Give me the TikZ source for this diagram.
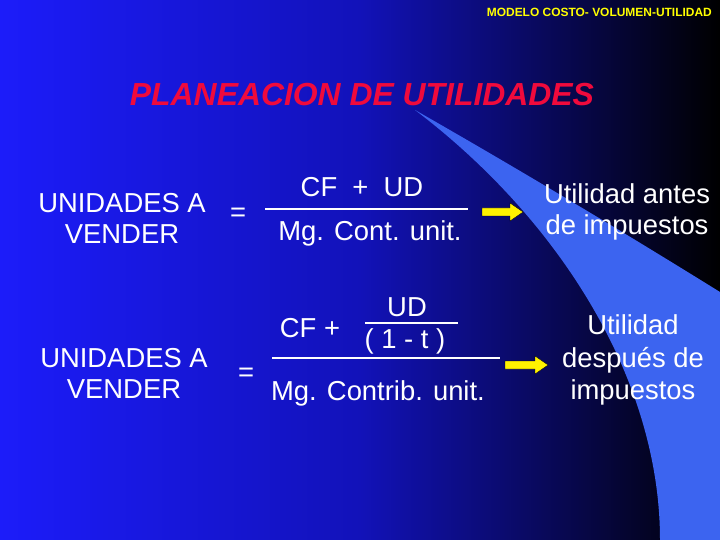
\documentclass[tikz,border=0pt]{standalone}
\usepackage{fontspec}
\setmainfont{Liberation Sans}
\definecolor{bgblue}{RGB}{28,28,250}
\definecolor{bgmid}{RGB}{18,18,185}
\definecolor{band}{RGB}{60,100,240}
\definecolor{titlered}{RGB}{240,10,60}
\definecolor{hdr}{RGB}{255,255,0}
\begin{document}
\begin{tikzpicture}[x=1bp,y=-1bp,
  txt/.style={text=white,font=\fontsize{27.5}{31}\selectfont,align=center,inner sep=0pt},
  fracline/.style={white,line width=2.5bp},
  yarrow/.style={fill=yellow,draw=black,line width=0.3bp}]
\useasboundingbox (0,0) rectangle (720,540);
\shade[left color=bgblue,right color=black,middle color=bgmid] (0,0) rectangle (720,540);
\fill[band] (415,110) .. controls (520,170) and (620,230) .. (720,292) -- (720,540) -- (660,540) .. controls (660,380) and (560,220) .. (415,110) -- cycle;
\node[text=hdr,font=\bfseries\fontsize{12}{14}\selectfont,anchor=east,inner sep=0pt] (hd) at (712,12) {MODELO COSTO- VOLUMEN-UTILIDAD};
\node[text=titlered,font=\bfseries\itshape\fontsize{32}{36}\selectfont,inner sep=0pt] (tt) at (362,95) {PLANEACION DE UTILIDADES};
% first
\node[txt] (u1) at (122,218) {UNIDADES A\\VENDER};
\node[txt] (e1) at (238,215) {=};
\node[txt] (n1) at (362,187) {CF \ + \ UD};
\coordinate (l1a) at (265,209); \coordinate (l1b) at (468,209);
\draw[fracline] (l1a) -- (l1b);
\node[txt] (d1) at (370,233) {Mg. Cont. unit.};
\coordinate (a1) at (482,212);
\draw[yarrow] (a1) ++(0,-4) -- ++(28,0) -- ++(0,-5) -- ++(13,9) -- ++(-13,9) -- ++(0,-5) -- ++(-28,0) -- cycle;
\node[txt] (r1) at (627,212) {Utilidad antes\\de impuestos};
% second
\node[txt] (u2) at (124,373) {UNIDADES A\\VENDER};
\node[txt] (e2) at (246,375) {=};
\node[txt] (cf) at (310,328) {CF +};
\node[txt] (ud) at (407,307) {UD};
\coordinate (l2a) at (365,323); \coordinate (l2b) at (458,323);
\draw[fracline] (l2a) -- (l2b);
\node[txt] (tt2) at (405,341) {( 1 - t )};
\coordinate (l3a) at (272,358); \coordinate (l3b) at (500,358);
\draw[fracline] (l3a) -- (l3b);
\node[txt] (d2) at (378,393) {Mg. Contrib. unit.};
\coordinate (a2) at (505,365);
\draw[yarrow] (a2) ++(0,-4) -- ++(30,0) -- ++(0,-5) -- ++(13,9) -- ++(-13,9) -- ++(0,-5) -- ++(-30,0) -- cycle;
\node[txt,font=\fontsize{27.5}{33}\selectfont] (r2) at (633,360) {Utilidad\\después de\\impuestos};
\end{tikzpicture}
\end{document}
